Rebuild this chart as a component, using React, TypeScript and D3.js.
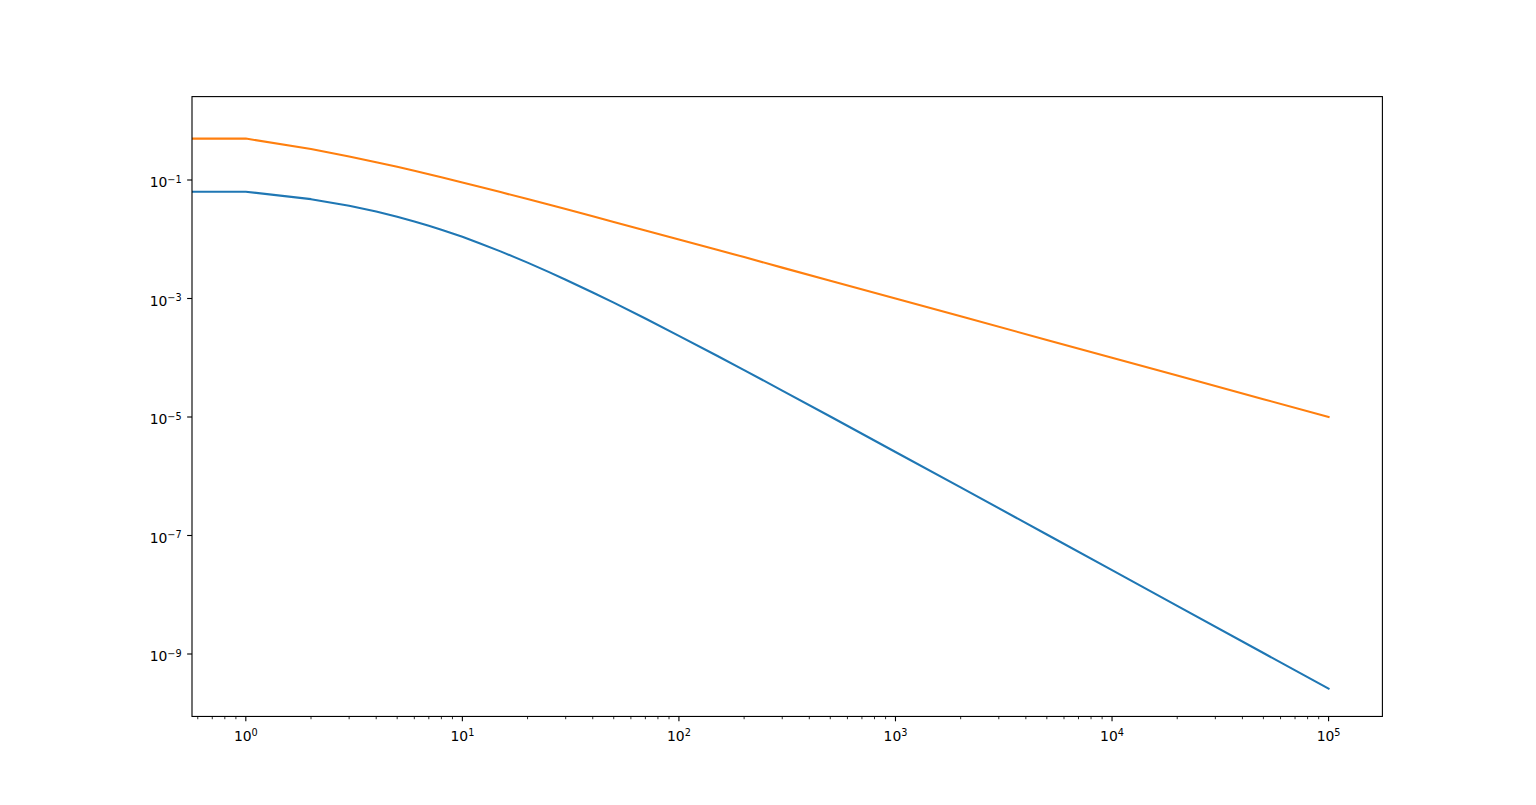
import React, { useRef, useEffect } from 'react';
import * as d3 from 'd3';

// values (x = 0 is clipped on a log axis, drawn flat at the left edge)
const xValues = [
  0, 1, 2, 3, 4, 5, 6, 7, 8, 10, 12, 15, 20, 25, 30, 40, 50, 70, 100, 150, 200, 300, 500, 1000, 2000, 5000, 10000,
  20000, 50000, 100000,
];
const blueValues = [
  0.0635, 0.0635, 0.0475, 0.0368, 0.0294, 0.024, 0.02, 0.0169, 0.01448, 0.011, 0.00859, 0.00625, 0.00403, 0.00281,
  0.00207, 0.00126, 0.00085, 0.00046, 0.000234, 0.000108, 0.000062, 0.0000279, 0.0000102, 2.57e-6, 6.5e-7, 1.04e-7,
  2.6e-8, 6.5e-9, 1.04e-9, 2.6e-10,
];
const orangeValues = [
  0.5, 0.5, 0.333, 0.25, 0.2, 0.167, 0.143, 0.125, 0.111, 0.091, 0.0769, 0.0625, 0.0476, 0.0385, 0.0323, 0.0244,
  0.0196, 0.0141, 0.0099, 0.00662, 0.005, 0.00332, 0.002, 0.001, 0.0005, 0.0002, 0.0001, 0.00005, 0.00002, 0.00001,
];

const xMajorExp = [0, 1, 2, 3, 4, 5];
const yMajorExp = [-1, -3, -5, -7, -9];

const seriesList = [
  { name: 'blue', values: blueValues, color: '#1f77b4' },
  { name: 'orange', values: orangeValues, color: '#ff7f0e' },
];

const W = 1536;
const H = 805;

const Chart: React.FC = () => {
  const svgRef = useRef<SVGSVGElement | null>(null);

  useEffect(() => {
    if (!svgRef.current) return;

    const left = 192;
    const right = 1382.4;
    const top = 96.6;
    const bottom = 716.45;
    const fontSize = 13.9;
    const supSize = 9.7;
    const majorLen = 4.86;
    const minorLen = 2.78;

    const svg = d3.select(svgRef.current);
    svg.selectAll('*').remove();

    svg.attr('width', W).attr('height', H).style('background-color', '#ffffff');

    const x = d3
      .scaleLog()
      .domain([Math.pow(10, -0.2485), Math.pow(10, 5.2485)])
      .range([left, right]);
    const y = d3
      .scaleLog()
      .domain([Math.pow(10, -10.054), Math.pow(10, 0.4076)])
      .range([bottom, top]);

    // clip to axes area
    svg
      .append('defs')
      .append('clipPath')
      .attr('id', 'plot-clip')
      .append('rect')
      .attr('x', left)
      .attr('y', top)
      .attr('width', right - left)
      .attr('height', bottom - top);

    // 선 그리기
    const xMin = x.domain()[0];
    const plot = svg.append('g').attr('clip-path', 'url(#plot-clip)');
    seriesList.forEach((s) => {
      const line = d3
        .line<number>()
        .x((_, i) => x(xValues[i] <= 0 ? xMin : xValues[i]))
        .y((d) => y(d));
      plot
        .append('path')
        .datum(s.values)
        .attr('d', line)
        .attr('fill', 'none')
        .attr('stroke', s.color)
        .attr('stroke-width', 2.08)
        .attr('stroke-linejoin', 'round')
        .attr('stroke-linecap', 'square');
    });

    // 틱
    const minorTicks: number[] = [];
    for (let e = -1; e <= 5; e++) {
      for (let k = 2; k <= 9; k++) {
        const v = k * Math.pow(10, e);
        if (v >= x.domain()[0] && v <= x.domain()[1]) minorTicks.push(v);
      }
    }
    const tickG = svg.append('g').attr('stroke', '#000');
    tickG
      .selectAll('.xminor')
      .data(minorTicks)
      .enter()
      .append('line')
      .attr('x1', (d) => x(d))
      .attr('x2', (d) => x(d))
      .attr('y1', bottom)
      .attr('y2', bottom + minorLen)
      .attr('stroke-width', 0.83);
    tickG
      .selectAll('.xmajor')
      .data(xMajorExp)
      .enter()
      .append('line')
      .attr('x1', (d) => x(Math.pow(10, d)))
      .attr('x2', (d) => x(Math.pow(10, d)))
      .attr('y1', bottom)
      .attr('y2', bottom + majorLen)
      .attr('stroke-width', 1.11);
    tickG
      .selectAll('.ymajor')
      .data(yMajorExp)
      .enter()
      .append('line')
      .attr('x1', left - majorLen)
      .attr('x2', left)
      .attr('y1', (d) => y(Math.pow(10, d)))
      .attr('y2', (d) => y(Math.pow(10, d)))
      .attr('stroke-width', 1.11);

    // 라벨
    const fmtExp = (e: number) => (e < 0 ? '\u2212' + Math.abs(e) : String(e));
    const labelG = svg
      .append('g')
      .attr('font-family', '"DejaVu Sans", sans-serif')
      .attr('font-size', fontSize)
      .attr('fill', '#000');

    const xl = labelG
      .selectAll('.xlabel')
      .data(xMajorExp)
      .enter()
      .append('text')
      .attr('x', (d) => x(Math.pow(10, d)))
      .attr('y', 741)
      .attr('text-anchor', 'middle');
    xl.append('tspan').text('10');
    xl.append('tspan')
      .attr('dy', -5)
      .attr('font-size', supSize)
      .text((d) => fmtExp(d));

    const yl = labelG
      .selectAll('.ylabel')
      .data(yMajorExp)
      .enter()
      .append('text')
      .attr('x', left - majorLen - 5.5)
      .attr('y', (d) => y(Math.pow(10, d)) + 7.2)
      .attr('text-anchor', 'end');
    yl.append('tspan').text('10');
    yl.append('tspan')
      .attr('dy', -4.5)
      .attr('font-size', supSize)
      .text((d) => fmtExp(d));

    // 테두리
    svg
      .append('rect')
      .attr('x', left)
      .attr('y', top)
      .attr('width', right - left)
      .attr('height', bottom - top)
      .attr('fill', 'none')
      .attr('stroke', '#000')
      .attr('stroke-width', 1.11);
  }, []);

  return <svg ref={svgRef} style={{ position: 'absolute', left: 0, top: 0, display: 'block' }} />;
};

export default function App() {
  return <Chart />;
}
